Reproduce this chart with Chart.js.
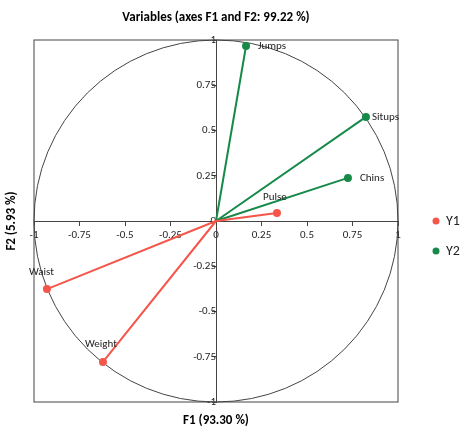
<!DOCTYPE html>
<html><head><meta charset="utf-8">
<script src="https://cdn.jsdelivr.net/npm/chart.js@4"></script>
<style>body{margin:0;background:#fff}#w{width:474px;height:438px}</style>
</head><body><div id="w"><canvas id="c"></canvas></div>
<script>
const y1Names = ["Pulse", "Waist", "Weight"];
const y1X = [0.335, -0.929, -0.621];
const y1Y = [0.044, -0.376, -0.779];
const y2Names = ["Jumps", "Situps", "Chins"];
const y2X = [0.165, 0.824, 0.725];
const y2Y = [0.967, 0.575, 0.238];
const seriesNames = ["Y1", "Y2"];
const colors = ["#f4564a", "#178a4a"];

function vec(xs, ys) {
  const d = [], r = [];
  xs.forEach((x, i) => { d.push({x:0,y:0}, {x:x,y:ys[i]}, {x:null,y:null}); r.push(0,3,0); });
  return {d, r};
}
const v1 = vec(y1X, y1Y), v2 = vec(y2X, y2Y);
const font = "Calibri, 'Liberation Sans', Arial, sans-serif";

const deco = {
  id: 'deco',
  beforeDatasetsDraw(ch) {
    const {ctx, chartArea: a, scales: {x, y}} = ch;
    ctx.save();
    ctx.strokeStyle = '#444'; ctx.lineWidth = 1;
    ctx.strokeRect(a.left, a.top, a.right - a.left, a.bottom - a.top);
    ctx.beginPath();
    ctx.ellipse(x.getPixelForValue(0), y.getPixelForValue(0),
      x.getPixelForValue(1) - x.getPixelForValue(0), y.getPixelForValue(0) - y.getPixelForValue(1), 0, 0, 2*Math.PI);
    ctx.stroke();
    ctx.restore();
  },
  afterDraw(ch) {
    const {ctx, chartArea: a, scales: {x, y}} = ch;
    ctx.save();
    ctx.fillStyle = '#000';
    ctx.font = "bold 13px " + font; ctx.textAlign = 'center'; ctx.textBaseline = 'middle';
    ctx.fillText("Variables (axes F1 and F2: 99.22 %)", (a.left + a.right)/2, 18);
    ctx.fillText("F1 (93.30 %)", (a.left + a.right)/2, 421);
    ctx.save(); ctx.translate(12, (a.top + a.bottom)/2); ctx.rotate(-Math.PI/2);
    ctx.fillText("F2 (5.93 %)", 0, 0); ctx.restore();
    ctx.font = "11px " + font; ctx.fillStyle = '#222';
    const lab = (names, xs, ys, offs) => names.forEach((n, i) => {
      ctx.textAlign = 'left';
      ctx.fillText(n, x.getPixelForValue(xs[i]) + offs[i][0], y.getPixelForValue(ys[i]) + offs[i][1]);
    });
    lab(y1Names, y1X, y1Y, [[-14,-16],[-18,-17],[-18,-18]]);
    lab(y2Names, y2X, y2Y, [[12,0],[6,0],[12,0]]);
    ctx.font = "14px " + font;
    seriesNames.forEach((s, i) => {
      const cy = 221 + i*30;
      ctx.fillStyle = colors[i];
      ctx.beginPath(); ctx.arc(436, cy, 3.5, 0, 2*Math.PI); ctx.fill();
      ctx.fillStyle = '#222'; ctx.textAlign = 'left';
      ctx.fillText(s, 446, cy);
    });
    ctx.restore();
  }
};

const ticks = {color:'#222', font:{size:11, family:font}, stepSize:0.25, padding:4, callback: v => String(v)};
new Chart(document.getElementById('c'), {
  type: 'scatter',
  data: { datasets: [
    {label: seriesNames[0], data: v1.d, showLine: true, spanGaps: false, borderColor: colors[0], backgroundColor: colors[0], borderWidth: 2, pointRadius: v1.r, pointHoverRadius: v1.r},
    {label: seriesNames[1], data: v2.d, showLine: true, spanGaps: false, borderColor: colors[1], backgroundColor: colors[1], borderWidth: 2, pointRadius: v2.r, pointHoverRadius: v2.r}
  ]},
  options: {
    responsive: true, maintainAspectRatio: false, animation: false,
    layout: {padding: {left: 34, top: 40, right: 76, bottom: 36}},
    plugins: {legend: {display: false}, title: {display: false}, tooltip: {enabled: false}},
    scales: {
      x: {type:'linear', min:-1, max:1, position:{y:0}, ticks: ticks,
          grid:{drawOnChartArea:false, tickLength:4, color:'#444'}, border:{color:'#444'}},
      y: {type:'linear', min:-1, max:1, position:{x:0}, ticks: ticks,
          grid:{drawOnChartArea:false, tickLength:4, color:'#444'}, border:{color:'#444'}}
    }
  },
  plugins: [deco]
});
</script></body></html>
